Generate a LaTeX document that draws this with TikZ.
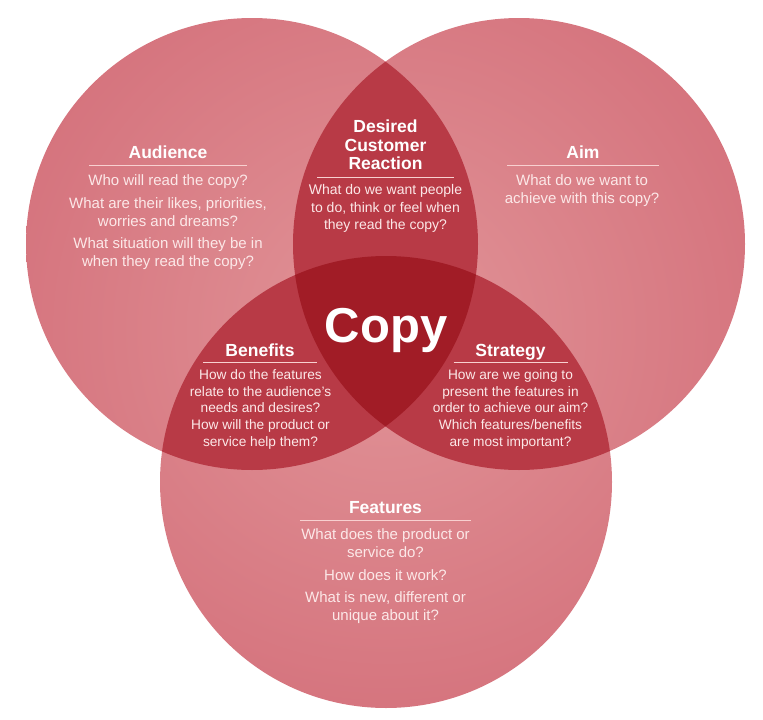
\documentclass[tikz,border=0pt]{standalone}
\usepackage{fontspec}
\setmainfont{Liberation Sans}
\usetikzlibrary{positioning}

\definecolor{petal}{RGB}{213,115,125}
\definecolor{petallight}{RGB}{225,148,152}
\definecolor{pairred}{RGB}{184,58,70}
\definecolor{corered}{RGB}{161,28,38}
\definecolor{textpink}{RGB}{252,232,232}
\definecolor{rulepink}{RGB}{248,208,208}

\newcommand{\headfont}{\fontsize{17.5}{18.3}\selectfont\bfseries}
\newcommand{\bodyfont}{\fontsize{15}{18}\selectfont}

\begin{document}
\begin{tikzpicture}[x=1pt,y=-1pt,
  head/.style={font=\headfont,text=white,align=center,inner sep=0pt,anchor=base},
  body/.style={font=\bodyfont,text=textpink,align=center,inner sep=0pt,anchor=base},
  mid/.style={font=\fontsize{14}{17.5}\selectfont},
  tight/.style={font=\fontsize{13.7}{16.8}\selectfont},
  rule/.style={draw=rulepink,line width=0.9pt}]
  \useasboundingbox (0,0) rectangle (763,720);

  % Circles
  \coordinate (cAud) at (252,244);
  \coordinate (cAim) at (519,244);
  \coordinate (cFea) at (386,482);
  \begin{scope}
    \clip (cAud) circle (226pt) (cAim) circle (226pt) (cFea) circle (226pt);
    \shade[inner color=petallight,outer color=petal] (-14,-70) rectangle (786,730);
  \end{scope}
  \begin{scope}
    \clip (cAud) circle (226pt);
    \fill[pairred] (cAim) circle (226pt);
    \fill[pairred] (cFea) circle (226pt);
  \end{scope}
  \begin{scope}
    \clip (cAim) circle (226pt);
    \fill[pairred] (cFea) circle (226pt);
  \end{scope}
  \begin{scope}
    \clip (cAud) circle (226pt);
    \clip (cAim) circle (226pt);
    \fill[corered] (cFea) circle (226pt);
  \end{scope}

  % Audience
  \node[head] (audT) at (168,158.5) {Audience};
  \draw[rule] ([shift={(-79,6.5)}]audT.base) -- ([shift={(79,6.5)}]audT.base);
  \node[body] (audQ) at (168,266.5) {Who will read the copy?\\[4.5pt]What are their likes, priorities,\\worries and dreams?\\[4.5pt]What situation will they be in\\when they read the copy?};

  % Desired customer reaction
  \node[head] (desT) at (385.5,169.5) {Desired\\Customer\\Reaction};
  \draw[rule] ([shift={(-68.5,7.5)}]desT.base) -- ([shift={(68.5,7.5)}]desT.base);
  \node[body,mid] (desQ) at (385.5,229.5) {What do we want people\\to do, think or feel when\\they read the copy?};

  % Aim
  \node[head] (aimT) at (583,158.5) {Aim};
  \draw[rule] ([shift={(-76,6.5)}]aimT.base) -- ([shift={(76,6.5)}]aimT.base);
  \node[body] (aimQ) at (582,203) {What do we want to\\achieve with this copy?};

  % Centre
  \node[font=\fontsize{49}{49}\selectfont\bfseries,text=white,inner sep=0pt,anchor=base] (copy) at (386,342) {Copy};

  % Benefits
  \node[head] (benT) at (260,356.5) {Benefits};
  \draw[rule] ([shift={(-57,6)}]benT.base) -- ([shift={(57,6)}]benT.base);
  \node[body,tight] (benQ) at (260.5,446.5) {How do the features\\relate to the audience's\\needs and desires?\\How will the product or\\service help them?};

  % Strategy
  \node[head] (strT) at (510.5,356.5) {Strategy};
  \draw[rule] ([shift={(-57,6)}]strT.base) -- ([shift={(57,6)}]strT.base);
  \node[body,tight] (strQ) at (510.5,446.5) {How are we going to\\present the features in\\order to achieve our aim?\\Which features/benefits\\are most important?};

  % Features
  \node[head] (feaT) at (385.5,513.5) {Features};
  \draw[rule] ([shift={(-85.5,6.5)}]feaT.base) -- ([shift={(85.5,6.5)}]feaT.base);
  \node[body] (feaQ) at (385.5,620.5) {What does the product or\\service do?\\[4.5pt]How does it work?\\[4.5pt]What is new, different or\\unique about it?};
\end{tikzpicture}
\end{document}
